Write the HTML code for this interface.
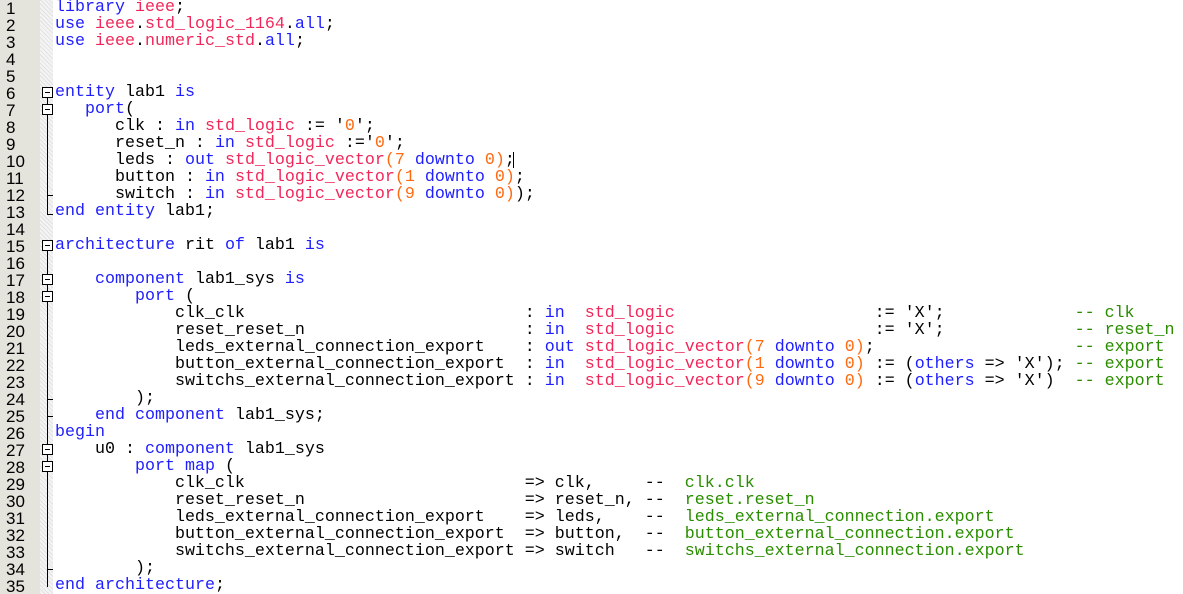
<!DOCTYPE html>
<html><head><meta charset="utf-8"><style>
html,body{margin:0;padding:0;background:#fff;width:1183px;height:594px;overflow:hidden;position:relative}
.g{position:absolute;left:0;top:0;width:40px;height:594px;background:#e4e3dc}
.d{position:absolute;left:40px;top:0;width:13px;height:594px;background-color:#f4f4f4;background-image:repeating-linear-gradient(45deg,#e2e2e2 0 1px,transparent 1px 3px)}
.n{position:absolute;left:6px;width:34px;height:17px;line-height:17px;font:17px "Liberation Sans",sans-serif;color:#000}
.l{position:absolute;left:55px;height:17px;line-height:17px;font-family:"Liberation Mono",monospace;font-size:16.67px;white-space:pre;color:#000}
.k{color:#1e1eff}.t{color:#f0285a}.u{color:#ff6a10}.c{color:#2a8c00}
.b{position:absolute;left:42px;width:9px;height:9px;border:1px solid #000;background:#fff}
.b:after{content:"";position:absolute;left:2px;top:4px;width:5px;height:1px;background:#000}
.v{position:absolute;left:47px;width:1px;background:#000}
.h{position:absolute;left:47px;width:6px;height:1px;background:#000}
.cur{position:absolute;left:513px;top:152px;width:1px;height:16px;background:#000}
</style></head><body>
<div class="g"></div><div class="d"></div>
<div class="n" style="top:-1px">1</div><div class="n" style="top:16px">2</div><div class="n" style="top:33px">3</div><div class="n" style="top:50px">4</div><div class="n" style="top:67px">5</div><div class="n" style="top:84px">6</div><div class="n" style="top:101px">7</div><div class="n" style="top:118px">8</div><div class="n" style="top:135px">9</div><div class="n" style="top:152px">10</div><div class="n" style="top:169px">11</div><div class="n" style="top:186px">12</div><div class="n" style="top:203px">13</div><div class="n" style="top:220px">14</div><div class="n" style="top:237px">15</div><div class="n" style="top:254px">16</div><div class="n" style="top:271px">17</div><div class="n" style="top:288px">18</div><div class="n" style="top:305px">19</div><div class="n" style="top:322px">20</div><div class="n" style="top:339px">21</div><div class="n" style="top:356px">22</div><div class="n" style="top:373px">23</div><div class="n" style="top:390px">24</div><div class="n" style="top:407px">25</div><div class="n" style="top:424px">26</div><div class="n" style="top:441px">27</div><div class="n" style="top:458px">28</div><div class="n" style="top:475px">29</div><div class="n" style="top:492px">30</div><div class="n" style="top:509px">31</div><div class="n" style="top:526px">32</div><div class="n" style="top:543px">33</div><div class="n" style="top:560px">34</div><div class="n" style="top:577px">35</div>

<div class="v" style="top:98px;height:117px"></div>
<div class="h" style="top:195px"></div><div class="h" style="top:214px"></div>
<div class="v" style="top:251px;height:336px"></div>
<div class="h" style="top:399px"></div><div class="h" style="top:416px"></div><div class="h" style="top:569px"></div>
<div class="b" style="top:87px"></div><div class="b" style="top:104px"></div><div class="b" style="top:240px"></div><div class="b" style="top:274px"></div><div class="b" style="top:291px"></div><div class="b" style="top:444px"></div><div class="b" style="top:461px"></div>

<div class="l" style="top:-1px"><span class="k">library</span> <span class="t">ieee</span>;</div>
<div class="l" style="top:16px"><span class="k">use</span> <span class="t">ieee</span>.<span class="t">std_logic_1164</span>.<span class="k">all</span>;</div>
<div class="l" style="top:33px"><span class="k">use</span> <span class="t">ieee</span>.<span class="t">numeric_std</span>.<span class="k">all</span>;</div>
<div class="l" style="top:84px"><span class="k">entity</span> lab1 <span class="k">is</span></div>
<div class="l" style="top:101px">   <span class="k">port</span>(</div>
<div class="l" style="top:118px">      clk : <span class="k">in</span> <span class="t">std_logic</span> := '<span class="u">0</span>';</div>
<div class="l" style="top:135px">      reset_n : <span class="k">in</span> <span class="t">std_logic</span> :='<span class="u">0</span>';</div>
<div class="l" style="top:152px">      leds : <span class="k">out</span> <span class="t">std_logic_vector</span><span class="u">(7</span> <span class="k">downto</span> <span class="u">0)</span>;</div>
<div class="l" style="top:169px">      button : <span class="k">in</span> <span class="t">std_logic_vector</span><span class="u">(1</span> <span class="k">downto</span> <span class="u">0)</span>;</div>
<div class="l" style="top:186px">      switch : <span class="k">in</span> <span class="t">std_logic_vector</span><span class="u">(9</span> <span class="k">downto</span> <span class="u">0)</span>);</div>
<div class="l" style="top:203px"><span class="k">end</span> <span class="k">entity</span> lab1;</div>
<div class="l" style="top:237px"><span class="k">architecture</span> rit <span class="k">of</span> lab1 <span class="k">is</span></div>
<div class="l" style="top:271px">    <span class="k">component</span> lab1_sys <span class="k">is</span></div>
<div class="l" style="top:288px">        <span class="k">port</span> (</div>
<div class="l" style="top:305px">            clk_clk                            : <span class="k">in</span>  <span class="t">std_logic</span>                    := 'X';             <span class="c">-- clk</span></div>
<div class="l" style="top:322px">            reset_reset_n                      : <span class="k">in</span>  <span class="t">std_logic</span>                    := 'X';             <span class="c">-- reset_n</span></div>
<div class="l" style="top:339px">            leds_external_connection_export    : <span class="k">out</span> <span class="t">std_logic_vector</span><span class="u">(7</span> <span class="k">downto</span> <span class="u">0)</span>;                    <span class="c">-- export</span></div>
<div class="l" style="top:356px">            button_external_connection_export  : <span class="k">in</span>  <span class="t">std_logic_vector</span><span class="u">(1</span> <span class="k">downto</span> <span class="u">0)</span> := (<span class="k">others</span> => 'X'); <span class="c">-- export</span></div>
<div class="l" style="top:373px">            switchs_external_connection_export : <span class="k">in</span>  <span class="t">std_logic_vector</span><span class="u">(9</span> <span class="k">downto</span> <span class="u">0)</span> := (<span class="k">others</span> => 'X')  <span class="c">-- export</span></div>
<div class="l" style="top:390px">        );</div>
<div class="l" style="top:407px">    <span class="k">end</span> <span class="k">component</span> lab1_sys;</div>
<div class="l" style="top:424px"><span class="k">begin</span></div>
<div class="l" style="top:441px">    u0 : <span class="k">component</span> lab1_sys</div>
<div class="l" style="top:458px">        <span class="k">port</span> <span class="k">map</span> (</div>
<div class="l" style="top:475px">            clk_clk                            => clk,     --  <span class="c">clk.clk</span></div>
<div class="l" style="top:492px">            reset_reset_n                      => reset_n, --  <span class="c">reset.reset_n</span></div>
<div class="l" style="top:509px">            leds_external_connection_export    => leds,    --  <span class="c">leds_external_connection.export</span></div>
<div class="l" style="top:526px">            button_external_connection_export  => button,  --  <span class="c">button_external_connection.export</span></div>
<div class="l" style="top:543px">            switchs_external_connection_export => switch   --  <span class="c">switchs_external_connection.export</span></div>
<div class="l" style="top:560px">        );</div>
<div class="l" style="top:577px"><span class="k">end</span> <span class="k">architecture</span>;</div>
<div class="cur"></div>
</body></html>
